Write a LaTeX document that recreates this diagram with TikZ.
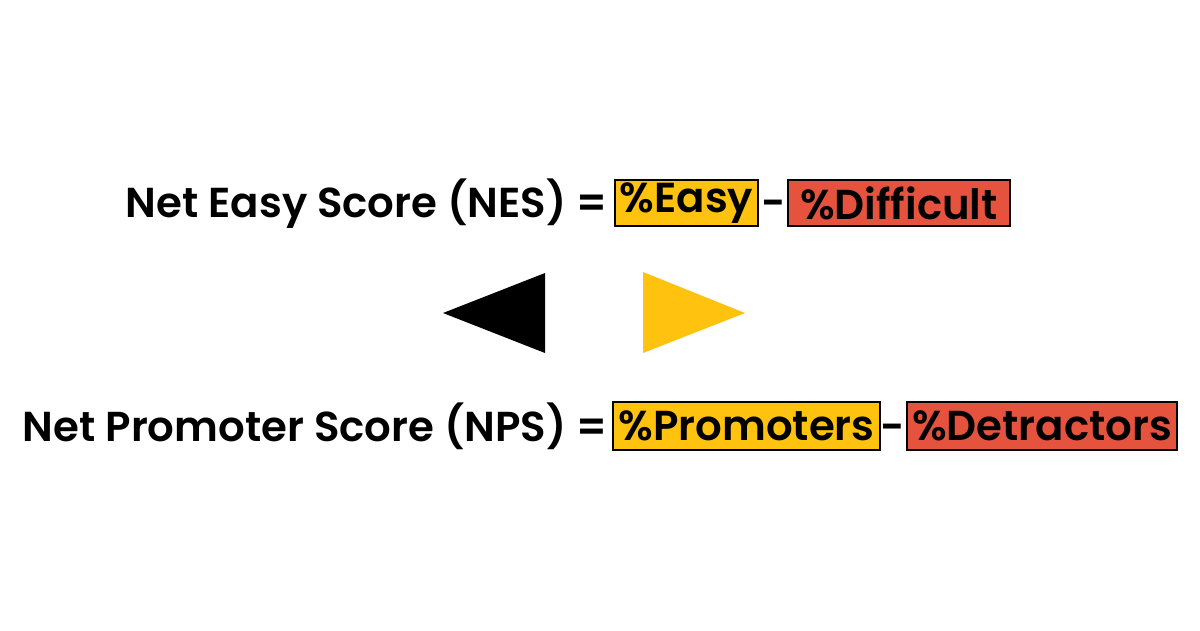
\documentclass[tikz,border=0pt]{standalone}
\usepackage{fontspec}
\setmainfont{Poppins}[UprightFont=* SemiBold]
\definecolor{ylw}{HTML}{FFC20E}
\definecolor{rd}{HTML}{E5533E}
\begin{document}
\begin{tikzpicture}[x=0.01cm,y=-0.01cm,
  lbl/.style={font=\fontsize{11.9}{14}\selectfont, inner sep=0pt},
  hl/.style={lbl, draw=black, line width=0.4pt, inner sep=0pt, minimum height=0.46cm}]
\useasboundingbox (0,0) rectangle (1200,630);
\fill[white] (0,0) rectangle (1200,630);
\node[lbl, anchor=base east] (nes) at (608,217) {Net Easy Score (NES) =};
\node[hl, fill=ylw, minimum width=1.43cm] (easy) at (686.5,203) {\%Easy};
\node[lbl, anchor=base] (m1) at (774,217) {-};
\node[hl, fill=rd, minimum width=2.22cm] (diff) at (899,203) {\%Difficult};
\fill[black] (443,313) -- (545,273) -- (545,353) -- cycle;
\fill[ylw] (643,272) -- (745,313) -- (643,353) -- cycle;
\node[lbl, anchor=base east] (nps) at (608,441) {Net Promoter Score (NPS) =};
\node[hl, fill=ylw, minimum width=2.67cm, minimum height=0.48cm] (prom) at (746.5,426) {\%Promoters};
\node[lbl, anchor=base] (m2) at (893,441) {-};
\node[hl, fill=rd, minimum width=2.70cm, minimum height=0.48cm] (det) at (1042,426) {\%Detractors};
\end{tikzpicture}
\end{document}
